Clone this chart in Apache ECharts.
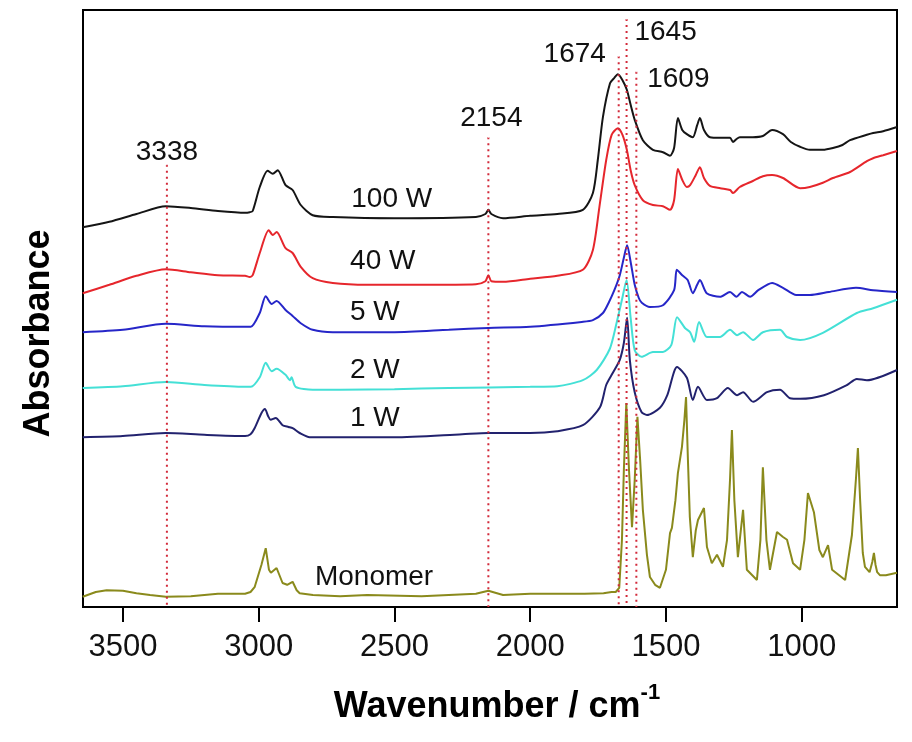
<!DOCTYPE html>
<html>
<head>
<meta charset="utf-8">
<script src="https://cdn.jsdelivr.net/npm/echarts@6/dist/echarts.min.js"></script>
<style>
html, body { margin: 0; padding: 0; background: #fff; }
#main { width: 912px; height: 742px; }
</style>
</head>
<body>
<div id="main"></div>
<script>
// spectra: [wavenumber (cm-1), absorbance (a.u., offset)]
var s100W = [[3648,0.633],[3550,0.642],[3450,0.655],[3342,0.668],[3250,0.665],[3150,0.660],[3050,0.657],[3033,0.658],[3022,0.660],[2996,0.700],[2967,0.727],[2948,0.722],[2930,0.728],[2901,0.703],[2875,0.695],[2845,0.670],[2801,0.653],[2727,0.650],[2500,0.648],[2200,0.650],[2165,0.655],[2154,0.662],[2143,0.655],[2100,0.648],[2000,0.652],[1900,0.655],[1806,0.662],[1769,0.690],[1751,0.745],[1732,0.817],[1706,0.873],[1690,0.882],[1677,0.888],[1660,0.878],[1644,0.862],[1630,0.837],[1615,0.812],[1585,0.778],[1548,0.762],[1511,0.758],[1485,0.752],[1470,0.765],[1456,0.815],[1440,0.795],[1423,0.788],[1401,0.783],[1385,0.803],[1375,0.815],[1360,0.795],[1338,0.783],[1300,0.782],[1264,0.782],[1253,0.775],[1240,0.780],[1228,0.783],[1180,0.783],[1143,0.785],[1109,0.795],[1069,0.788],[1040,0.775],[1006,0.767],[970,0.762],[922,0.762],[885,0.765],[850,0.770],[822,0.778],[760,0.787],[737,0.790],[700,0.793],[649,0.800]];
var s40W = [[3648,0.523],[3550,0.537],[3450,0.552],[3342,0.563],[3250,0.558],[3150,0.553],[3050,0.552],[3033,0.550],[3022,0.553],[2996,0.590],[2963,0.628],[2948,0.620],[2934,0.625],[2901,0.598],[2875,0.590],[2845,0.567],[2801,0.548],[2727,0.540],[2600,0.537],[2400,0.537],[2200,0.538],[2165,0.543],[2154,0.553],[2143,0.543],[2100,0.542],[2000,0.547],[1900,0.552],[1806,0.562],[1769,0.595],[1745,0.667],[1720,0.745],[1700,0.787],[1677,0.798],[1660,0.787],[1644,0.762],[1630,0.728],[1615,0.703],[1585,0.678],[1548,0.670],[1511,0.668],[1485,0.662],[1470,0.678],[1456,0.730],[1440,0.712],[1423,0.700],[1411,0.703],[1390,0.720],[1375,0.733],[1360,0.715],[1338,0.702],[1300,0.698],[1264,0.695],[1253,0.690],[1228,0.700],[1180,0.710],[1143,0.718],[1109,0.720],[1069,0.715],[1006,0.698],[970,0.700],[922,0.707],[885,0.715],[822,0.725],[760,0.743],[737,0.748],[700,0.753],[649,0.760]];
var s5W = [[3648,0.458],[3500,0.462],[3342,0.472],[3200,0.468],[3050,0.467],[3029,0.467],[2996,0.490],[2974,0.518],[2952,0.505],[2934,0.510],[2901,0.495],[2875,0.485],[2845,0.473],[2801,0.462],[2727,0.458],[2500,0.458],[2300,0.462],[2154,0.465],[2000,0.467],[1810,0.475],[1769,0.478],[1732,0.490],[1710,0.508],[1690,0.528],[1670,0.553],[1655,0.582],[1643,0.603],[1630,0.575],[1615,0.537],[1600,0.515],[1589,0.507],[1559,0.500],[1511,0.503],[1470,0.528],[1460,0.562],[1440,0.553],[1420,0.545],[1401,0.523],[1385,0.537],[1375,0.545],[1350,0.523],[1301,0.517],[1264,0.525],[1240,0.517],[1220,0.525],[1190,0.517],[1160,0.528],[1109,0.540],[1069,0.532],[1020,0.520],[970,0.520],[900,0.525],[800,0.532],[737,0.528],[649,0.525]];
var s2W = [[3648,0.365],[3500,0.368],[3342,0.375],[3200,0.370],[3050,0.367],[3029,0.367],[2996,0.383],[2974,0.407],[2952,0.393],[2934,0.397],[2901,0.387],[2885,0.378],[2879,0.383],[2864,0.367],[2801,0.362],[2700,0.362],[2500,0.363],[2300,0.365],[2000,0.367],[1900,0.368],[1806,0.378],[1755,0.395],[1707,0.430],[1681,0.475],[1662,0.512],[1645,0.545],[1630,0.482],[1615,0.428],[1590,0.417],[1548,0.425],[1511,0.425],[1480,0.437],[1459,0.483],[1430,0.465],[1411,0.458],[1396,0.442],[1378,0.475],[1349,0.450],[1301,0.450],[1264,0.462],[1238,0.453],[1216,0.458],[1179,0.445],[1143,0.458],[1080,0.462],[1054,0.450],[1006,0.445],[922,0.457],[797,0.490],[737,0.498],[649,0.512]];
var s1W = [[3648,0.283],[3500,0.285],[3342,0.290],[3200,0.287],[3050,0.285],[3030,0.288],[3015,0.298],[2990,0.323],[2977,0.330],[2965,0.318],[2956,0.312],[2937,0.315],[2912,0.303],[2890,0.300],[2875,0.298],[2849,0.290],[2812,0.283],[2700,0.283],[2500,0.283],[2250,0.288],[2154,0.290],[2000,0.290],[1900,0.293],[1806,0.303],[1743,0.333],[1720,0.370],[1696,0.390],[1670,0.412],[1655,0.440],[1643,0.482],[1633,0.412],[1615,0.358],[1590,0.325],[1570,0.320],[1522,0.332],[1495,0.353],[1459,0.400],[1423,0.382],[1401,0.345],[1382,0.367],[1349,0.345],[1312,0.348],[1272,0.365],[1238,0.353],[1216,0.358],[1179,0.342],[1128,0.358],[1080,0.362],[1043,0.348],[1006,0.347],[918,0.353],[833,0.370],[797,0.380],[760,0.378],[649,0.395]];
var sMonomer = [[3648,0.017],[3600,0.025],[3560,0.028],[3500,0.027],[3450,0.023],[3400,0.020],[3342,0.017],[3250,0.018],[3150,0.022],[3050,0.022],[3030,0.025],[3015,0.033],[2990,0.070],[2974,0.098],[2962,0.062],[2955,0.057],[2934,0.065],[2912,0.040],[2895,0.037],[2875,0.042],[2860,0.028],[2849,0.023],[2800,0.020],[2700,0.018],[2600,0.020],[2400,0.018],[2200,0.022],[2154,0.027],[2100,0.020],[2000,0.022],[1900,0.022],[1800,0.022],[1730,0.023],[1700,0.025],[1685,0.025],[1672,0.032],[1662,0.112],[1655,0.228],[1646,0.340],[1636,0.228],[1625,0.133],[1615,0.212],[1605,0.317],[1595,0.245],[1585,0.162],[1570,0.087],[1559,0.050],[1540,0.037],[1522,0.032],[1500,0.062],[1485,0.123],[1478,0.132],[1465,0.178],[1456,0.223],[1441,0.267],[1432,0.312],[1426,0.350],[1419,0.245],[1412,0.150],[1401,0.083],[1390,0.128],[1382,0.145],[1360,0.165],[1349,0.100],[1331,0.073],[1312,0.087],[1290,0.067],[1275,0.112],[1264,0.212],[1257,0.295],[1248,0.178],[1235,0.083],[1216,0.162],[1202,0.062],[1165,0.045],[1152,0.112],[1143,0.233],[1130,0.112],[1117,0.062],[1091,0.125],[1070,0.117],[1054,0.112],[1032,0.073],[1006,0.062],[990,0.112],[977,0.190],[955,0.158],[935,0.095],[922,0.083],[903,0.103],[888,0.062],[840,0.045],[815,0.120],[800,0.215],[793,0.265],[785,0.180],[775,0.090],[767,0.067],[750,0.058],[740,0.075],[734,0.090],[728,0.070],[722,0.058],[712,0.053],[690,0.053],[649,0.057]];

// marked bands and the height where each dotted line starts
var peakWn = [3338, 2154, 1674, 1645, 1609];
var peakTop = [0.737, 0.783, 0.918, 0.980, 0.892];

var curveNames = ['100 W', '40 W', '5 W', '2 W', '1 W', 'Monomer'];
var tickValues = [1000, 1500, 2000, 2500, 3000, 3500];

var font = '"Liberation Sans", Arial, Helvetica, sans-serif';

// label placement (layout only)
var peakLabelOffset = [[0, -13], [3, -19], [-44, -2], [39, 13], [42, 7]];
var curveLabelAt = [[2510, 0.680], [2543, 0.577], [2572, 0.492], [2572, 0.395], [2572, 0.315], [2575, 0.050]];

var myChart = echarts.init(document.getElementById('main'));

function spectrum(name, data, color, smooth) {
	return {
		name : name,
		type : 'line',
		data : data,
		symbol : 'none',
		smooth : smooth,
		lineStyle : { color : color, width : 2 },
		itemStyle : { color : color },
		z : 3,
		silent : true
	};
}

var textStyle = {
	show : true,
	position : 'inside',
	fontSize : 28,
	fontFamily : font,
	color : '#111',
	opacity : 1,
	textBorderWidth : 0
};

var series = [
	spectrum('100 W', s100W, '#151515', 0.25),
	spectrum('40 W', s40W, '#e6262c', 0.25),
	spectrum('5 W', s5W, '#2626c8', 0.25),
	spectrum('2 W', s2W, '#44e0d6', 0.25),
	spectrum('1 W', s1W, '#22226e', 0.25),
	spectrum('Monomer', sMonomer, '#8a8a1c', false)
];

// red dotted marker lines
for (var i = 0; i < peakWn.length; i++) {
	series.push({
		type : 'line',
		data : [ [ peakWn[i], peakTop[i] ], [ peakWn[i], 0 ] ],
		symbol : 'none',
		lineStyle : { color : '#d22a3a', width : 2, type : [ 2, 4 ] },
		z : 6,
		silent : true
	});
}

// marker numbers
series.push({
	type : 'scatter',
	symbolSize : 1,
	itemStyle : { color : '#fff', opacity : 1 },
	data : peakWn.map(function(w, i) {
		return { value : [ w, peakTop[i] ], label : { offset : peakLabelOffset[i] } };
	}),
	label : Object.assign({}, textStyle, {
		formatter : function(p) { return String(peakWn[p.dataIndex]); }
	}),
	z : 7,
	silent : true
});

// curve names
series.push({
	type : 'scatter',
	symbolSize : 1,
	itemStyle : { color : '#fff', opacity : 1 },
	data : curveLabelAt,
	label : Object.assign({}, textStyle, {
		formatter : function(p) { return curveNames[p.dataIndex]; }
	}),
	z : 7,
	silent : true
});

var option = {
	animation : false,
	backgroundColor : '#fff',
	grid : {
		left : 83,
		right : 15,
		top : 10,
		bottom : 135,
		show : true,
		borderColor : '#000',
		borderWidth : 2
	},
	xAxis : {
		type : 'value',
		inverse : true,
		min : 649,
		max : 3647,
		name : '{t|Wavenumber / cm}{s|-1}',
		nameLocation : 'middle',
		nameGap : 75,
		nameTextStyle : {
			padding : [ 0, 0, 0, 14 ],
			rich : {
				t : { fontSize : 36, fontWeight : 'bold', fontFamily : font, color : '#000', lineHeight : 50 },
				s : { fontSize : 22, fontWeight : 'bold', fontFamily : font, color : '#000', verticalAlign : 'top' }
			}
		},
		axisLine : { lineStyle : { color : '#000', width : 2 } },
		axisTick : { show : true, length : 15, lineStyle : { color : '#000', width : 2 }, customValues : tickValues },
		axisLabel : {
			fontSize : 31,
			fontFamily : font,
			color : '#111',
			margin : 25,
			customValues : tickValues,
			formatter : function(v) { return String(v); }
		},
		splitLine : { show : false }
	},
	yAxis : {
		type : 'value',
		min : 0,
		max : 0.995,
		name : 'Absorbance',
		nameLocation : 'middle',
		nameGap : 26,
		nameTextStyle : {
			fontSize : 36,
			fontWeight : 'bold',
			fontFamily : font,
			color : '#000',
			padding : [ 0, 50, 0, 0 ]
		},
		axisLine : { show : true, lineStyle : { color : '#000', width : 2 } },
		axisTick : { show : false },
		axisLabel : { show : false },
		splitLine : { show : false }
	},
	series : series
};

myChart.setOption(option);
</script>
</body>
</html>
